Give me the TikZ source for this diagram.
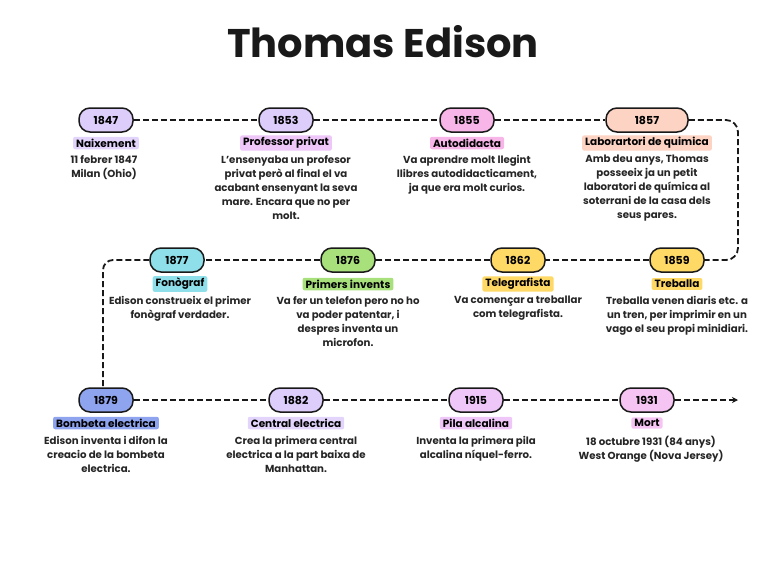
\documentclass[tikz,border=0pt]{standalone}
\usepackage{fontspec}
\setmainfont{Poppins}
\usetikzlibrary{arrows.meta}
\definecolor{lav}{HTML}{DCCDFA}
\definecolor{lavl}{HTML}{E2D4FB}
\definecolor{pinkc}{HTML}{F7B5E8}
\definecolor{peach}{HTML}{FDD3C3}
\definecolor{yel}{HTML}{FFD966}
\definecolor{cyn}{HTML}{8EDFEA}
\definecolor{grn}{HTML}{A8E07C}
\definecolor{blu}{HTML}{8FA4EE}
\definecolor{lil}{HTML}{EEC6F8}
\definecolor{pnk2}{HTML}{F5C4F2}
\begin{document}
\begin{tikzpicture}[x=1pt,y=-1pt,
  pill/.style={draw=black!90,line width=1.5pt,rounded corners=11pt,minimum height=24pt,minimum width=54pt,font=\fontsize{11}{12}\selectfont\bfseries,inner sep=2pt},
  lab/.style={rounded corners=2pt,inner xsep=3pt,inner ysep=2pt,font=\fontsize{10.5}{11}\selectfont\bfseries},
  desc/.style={align=center,anchor=north,font=\fontsize{10.2}{14}\selectfont\bfseries,inner sep=0pt,text=black!85},
  conn/.style={dash pattern=on 6pt off 3pt,line width=1.8pt,black!90}]
\useasboundingbox (0,0) rectangle (768,576);
\node[font=\fontsize{40}{44}\selectfont\bfseries,text=black!90] (title) at (383,42) {Thomas Edison};
% row 1
\node[pill,fill=lav] (p1847) at (106,120) {1847};
\node[pill,fill=lav] (p1853) at (286,120) {1853};
\node[pill,fill=pinkc] (p1855) at (467,120) {1855};
\node[pill,fill=peach,minimum width=82pt] (p1857) at (647,120) {1857};
\node[lab,fill=lavl] (l1847) at (106,143) {Naixement};
\node[lab,fill=lil] (l1853) at (286,143) {Professor privat};
\node[lab,fill=pinkc] (l1855) at (467,143) {Autodidacta};
\node[lab,fill=peach] (l1857) at (647,143) {Laborartori de quimica};
\node[desc] (d1847) at (104,155) {11 febrer 1847\\Milan (Ohio)};
\node[desc] (d1853) at (286,155) {L’ensenyaba un profesor\\privat però al final el va\\acabant ensenyant la seva\\mare. Encara que no per\\molt.};
\node[desc] (d1855) at (467,155) {Va aprendre molt llegint\\llibres autodidacticament,\\ja que era molt curios.};
\node[desc] (d1857) at (647,155) {Amb deu anys, Thomas\\posseeix ja un petit\\laboratori de química al\\soterrani de la casa dels\\seus pares.};
% row 2
\node[pill,fill=cyn] (p1877) at (177,260) {1877};
\node[pill,fill=grn] (p1876) at (348,260) {1876};
\node[pill,fill=yel] (p1862) at (518,260) {1862};
\node[pill,fill=yel] (p1859) at (677,260) {1859};
\node[lab,fill=cyn] (l1877) at (180,284) {Fonògraf};
\node[lab,fill=grn] (l1876) at (348,284) {Primers invents};
\node[lab,fill=yel] (l1862) at (518,284) {Telegrafista};
\node[lab,fill=yel] (l1859) at (677,284) {Treballa};
\node[desc] (d1877) at (180,296) {Edison construeix el primer\\fonògraf verdader.};
\node[desc] (d1876) at (348,296) {Va fer un telefon pero no ho\\va poder patentar, i\\despres inventa un\\microfon.};
\node[desc] (d1862) at (518,296) {Va començar a treballar\\com telegrafista.};
\node[desc] (d1859) at (677,296) {Treballa venen diaris etc. a\\un tren, per imprimir en un\\vago el seu propi minidiari.};
% row 3
\node[pill,fill=blu] (p1879) at (106,400) {1879};
\node[pill,fill=lav] (p1882) at (296,400) {1882};
\node[pill,fill=lil] (p1915) at (476,400) {1915};
\node[pill,fill=pnk2] (p1931) at (647,400) {1931};
\node[lab,fill=blu] (l1879) at (106,423) {Bombeta electrica};
\node[lab,fill=lavl] (l1882) at (296,423) {Central electrica};
\node[lab,fill=lil] (l1915) at (476,423) {Pila alcalina};
\node[lab,fill=pnk2] (l1931) at (647,423) {Mort};
\node[desc] (d1879) at (106,436) {Edison inventa i difon la\\creacio de la bombeta\\electrica.};
\node[desc] (d1882) at (296,436) {Crea la primera central\\electrica a la part baixa de\\Manhattan.};
\node[desc] (d1915) at (476,436) {Inventa la primera pila\\alcalina níquel-ferro.};
\node[desc] (d1931) at (651,436) {18 octubre 1931 (84 anys)\\West Orange (Nova Jersey)};
\coordinate (r1) at (738,120);
\coordinate (r2) at (738,260);
\coordinate (c2) at (103,260);
\coordinate (end) at (738,400);
% connectors
\draw[conn] (p1847) -- (p1853);
\draw[conn] (p1853) -- (p1855);
\draw[conn] (p1855) -- (p1857);
\draw[conn,rounded corners=12pt] (p1857) -- (r1) -- (r2) -- (p1859);
\draw[conn] (p1859) -- (p1862);
\draw[conn] (p1862) -- (p1876);
\draw[conn] (p1876) -- (p1877);
\draw[conn,rounded corners=10pt] (p1877) -- (c2) -- (p1879.north-|c2);
\draw[conn] (p1879) -- (p1882);
\draw[conn] (p1882) -- (p1915);
\draw[conn] (p1915) -- (p1931);
\draw[conn,-{Stealth[length=6pt,width=6pt]}] (p1931) -- (end);
\end{tikzpicture}
\end{document}
